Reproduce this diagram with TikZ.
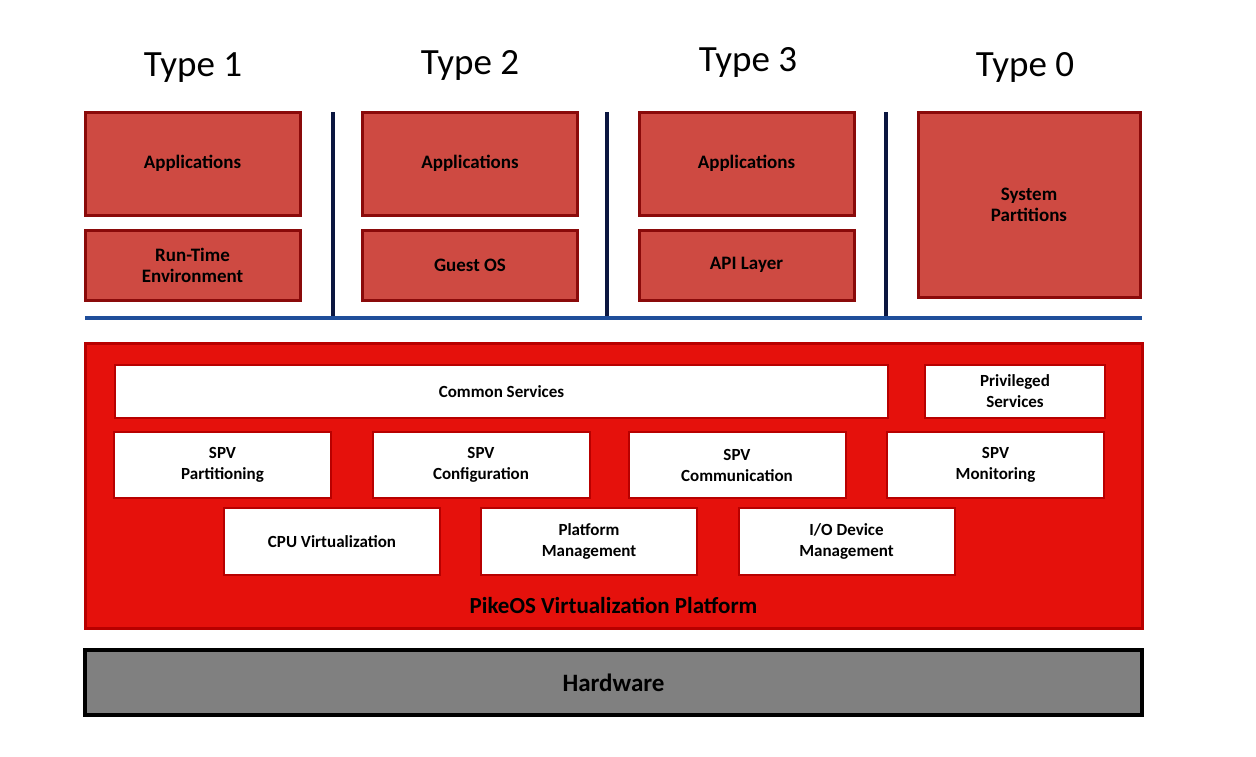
\documentclass[tikz,border=0pt]{standalone}
\usepackage{fontspec}
\setmainfont{Carlito}

\definecolor{guestred}{HTML}{CE4A42}
\definecolor{guestedge}{HTML}{8A0A0A}
\definecolor{platred}{HTML}{E5110C}
\definecolor{platedge}{HTML}{B80000}
\definecolor{sepnavy}{HTML}{0B1640}
\definecolor{lineblue}{HTML}{1F4E9A}
\definecolor{hwgrey}{HTML}{808080}

\begin{document}
\begin{tikzpicture}[x=1pt,y=-1pt]
    \tikzset{
        typehead/.style={font=\fontsize{37}{40}\selectfont},
        guest/.style={
            draw=guestedge, line width=3pt, fill=guestred,
            minimum width=215pt, minimum height=#1,
            align=center, font=\bfseries\fontsize{19}{21}\selectfont,
        },
        service/.style={
            draw=platedge, line width=2pt, fill=white,
            minimum width=#1, minimum height=60pt,
            align=center, font=\bfseries\fontsize{17}{21}\selectfont,
        },
    }

    \useasboundingbox (0,0) rectangle (1256,756);

    % Headings
    \node[typehead] (t1) at (193,68) {Type 1};
    \node[typehead] (t2) at (470,65) {Type 2};
    \node[typehead] (t3) at (748,62) {Type 3};
    \node[typehead] (t0) at (1025,67) {Type 0};

    % Partitions
    \node[guest=103pt] (app1) at (192.5,163.5) {Applications};
    \node[guest=70pt]  (rte)  at (192.5,265) {Run-Time\\Environment};
    \node[guest=103pt] (app2) at (470,163.5) {Applications};
    \node[guest=70pt]  (gos)  at (470,265) {Guest OS};
    \node[guest=103pt] (app3) at (746.5,163.5) {Applications};
    \node[guest=70pt]  (api)  at (746.5,265) {API Layer};
    \node[guest=185pt, minimum width=222pt] (sys) at (1029,204.5) {System\\Partitions};

    % Separators
    \draw[sepnavy, line width=4pt] (333,112) -- (333,318);
    \draw[sepnavy, line width=4pt] (607,112) -- (607,318);
    \draw[sepnavy, line width=4pt] (886,112) -- (886,318);
    \draw[lineblue, line width=4pt] (85,318) -- (1142,318);

    % Virtualization platform
    \node[draw=platedge, line width=3pt, fill=platred,
          minimum width=1057pt, minimum height=285pt] (plat) at (613.5,485.5) {};
    \node[font=\bfseries\fontsize{23}{25}\selectfont] (platname) at (613.5,605)
        {PikeOS Virtualization Platform};

    \node[service=773pt, minimum height=53pt] (common) at (501.5,391.5) {Common Services};
    \node[service=180pt, minimum height=53pt] (priv) at (1015,391.5) {Privileged\\Services};

    \node[service=217pt, minimum height=66pt] (part) at (222.5,465) {SPV\\Partitioning};
    \node[service=217pt, minimum height=66pt] (conf) at (481,465) {SPV\\Configuration};
    \node[service=217pt, minimum height=66pt] (comm) at (737,465) {SPV\\Communication};
    \node[service=217pt, minimum height=66pt] (mon)  at (995.5,465) {SPV\\Monitoring};

    \node[service=216pt, minimum height=67pt] (cpu) at (332,541.5) {CPU Virtualization};
    \node[service=216pt, minimum height=67pt] (pm)  at (589,541.5) {Platform\\Management};
    \node[service=216pt, minimum height=67pt] (io)  at (846.5,541.5) {I/O Device\\Management};

    % Hardware
    \node[draw=black, line width=4pt, fill=hwgrey,
          minimum width=1057pt, minimum height=65pt,
          font=\bfseries\fontsize{25}{27}\selectfont] (hw) at (613.5,682.5) {Hardware};

\end{tikzpicture}
\end{document}
